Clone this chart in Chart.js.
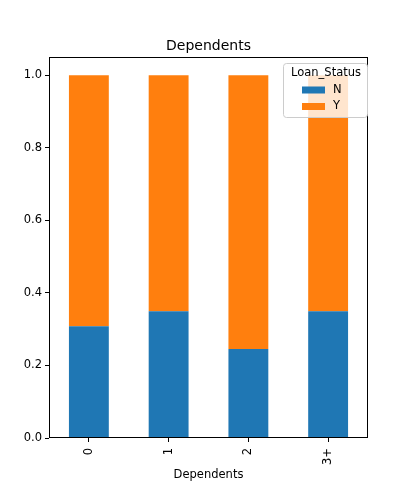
<!DOCTYPE html>
<html>
<head>
<meta charset="utf-8">
<script src="https://cdn.jsdelivr.net/npm/chart.js@4"></script>
<style>
  html, body { margin: 0; padding: 0; background: #fff; }
  #wrap { width: 404px; height: 485px; }
</style>
</head>
<body>
<div id="wrap"><canvas id="chart"></canvas></div>
<script>
// данные с картинки
const categories = ['0', '1', '2', '3+'];
const shareN = [0.308, 0.349, 0.245, 0.349];
const shareY = [0.692, 0.651, 0.755, 0.651];
const yTicks = [0, 0.2, 0.4, 0.6, 0.8, 1.0];
const seriesNames = ['N', 'Y'];
const seriesColors = ['#1f77b4', '#ff7f0e'];
const chartTitle = 'Dependents';

const FONT = 'DejaVu Sans';
const SMALL = 11.5;

// рамка вокруг области графика + заголовок по центру области (как в matplotlib)
const frame = {
    id: 'frame',
    afterDatasetsDraw(chart) {
        const { ctx, chartArea: a } = chart;
        ctx.save();
        ctx.strokeStyle = '#000';
        ctx.lineWidth = 1;
        ctx.strokeRect(Math.round(a.left) + 0.5, Math.round(a.top) + 0.5,
            Math.round(a.right - a.left) - 1, Math.round(a.bottom - a.top) - 1);

        ctx.fillStyle = '#000';
        ctx.font = '14px "' + FONT + '"';
        ctx.textAlign = 'center';
        ctx.textBaseline = 'middle';
        ctx.fillText(chartTitle, (a.left + a.right) / 2, a.top - 11);
        ctx.restore();
    }
};

// легенда внутри графика, справа сверху
const insideLegend = {
    id: 'insideLegend',
    afterDraw(chart) {
        const { ctx, chartArea: a } = chart;
        const w = 84, h = 54;
        const x = a.right - w - 1, y = a.top + 6;
        ctx.save();
        ctx.fillStyle = 'rgba(255,255,255,0.8)';
        ctx.strokeStyle = '#cccccc';
        ctx.lineWidth = 1;
        ctx.beginPath();
        ctx.roundRect(x + 0.5, y + 0.5, w, h, 3);
        ctx.fill();
        ctx.stroke();

        ctx.fillStyle = '#000';
        ctx.font = SMALL + 'px "' + FONT + '"';
        ctx.textBaseline = 'middle';
        ctx.textAlign = 'center';
        ctx.fillText('Loan_Status', x + w / 2 + 1, y + 10);

        ctx.textAlign = 'left';
        chart.data.datasets.forEach((ds, i) => {
            const cy = y + 27 + i * 16.5;
            ctx.fillStyle = ds.backgroundColor;
            ctx.fillRect(x + 19, cy - 3.5, 23, 7);
            ctx.fillStyle = '#000';
            ctx.fillText(ds.label, x + 50, cy);
        });
        ctx.restore();
    }
};

new Chart(document.getElementById('chart'), {
    type: 'bar',
    data: {
        labels: categories,
        datasets: [
            { label: seriesNames[0], data: shareN, backgroundColor: seriesColors[0] },
            { label: seriesNames[1], data: shareY, backgroundColor: seriesColors[1] }
        ]
    },
    options: {
        responsive: true,
        maintainAspectRatio: false,
        animation: false,
        layout: { padding: { left: 0, right: 36, top: 57, bottom: 0 } },
        datasets: { bar: { barPercentage: 0.5, categoryPercentage: 1.0 } },
        plugins: {
            legend: { display: false },
            tooltip: { enabled: false },
            title: { display: false }
        },
        scales: {
            x: {
                stacked: true,
                grid: { display: true, offset: false, drawOnChartArea: false, drawTicks: true, tickLength: 4, color: '#000' },
                border: { display: false },
                ticks: {
                    color: '#000',
                    font: { family: FONT, size: SMALL },
                    minRotation: 90, maxRotation: 90,
                    padding: 6
                },
                title: {
                    display: true,
                    text: 'Dependents',
                    color: '#000',
                    font: { family: FONT, size: SMALL },
                    padding: { top: 0, bottom: 3 }
                },
                afterFit(scale) { scale.height = 47; }
            },
            y: {
                stacked: true,
                min: 0,
                max: 1.05,
                afterBuildTicks(scale) { scale.ticks = yTicks.map(v => ({ value: v })); },
                grid: { display: true, drawOnChartArea: false, drawTicks: true, tickLength: 4, color: '#000' },
                border: { display: false },
                ticks: {
                    color: '#000',
                    font: { family: FONT, size: SMALL },
                    padding: 3,
                    callback: v => Number(v).toFixed(1)
                },
                afterFit(scale) { scale.width = 49; }
            }
        }
    },
    plugins: [frame, insideLegend]
});
</script>
</body>
</html>
